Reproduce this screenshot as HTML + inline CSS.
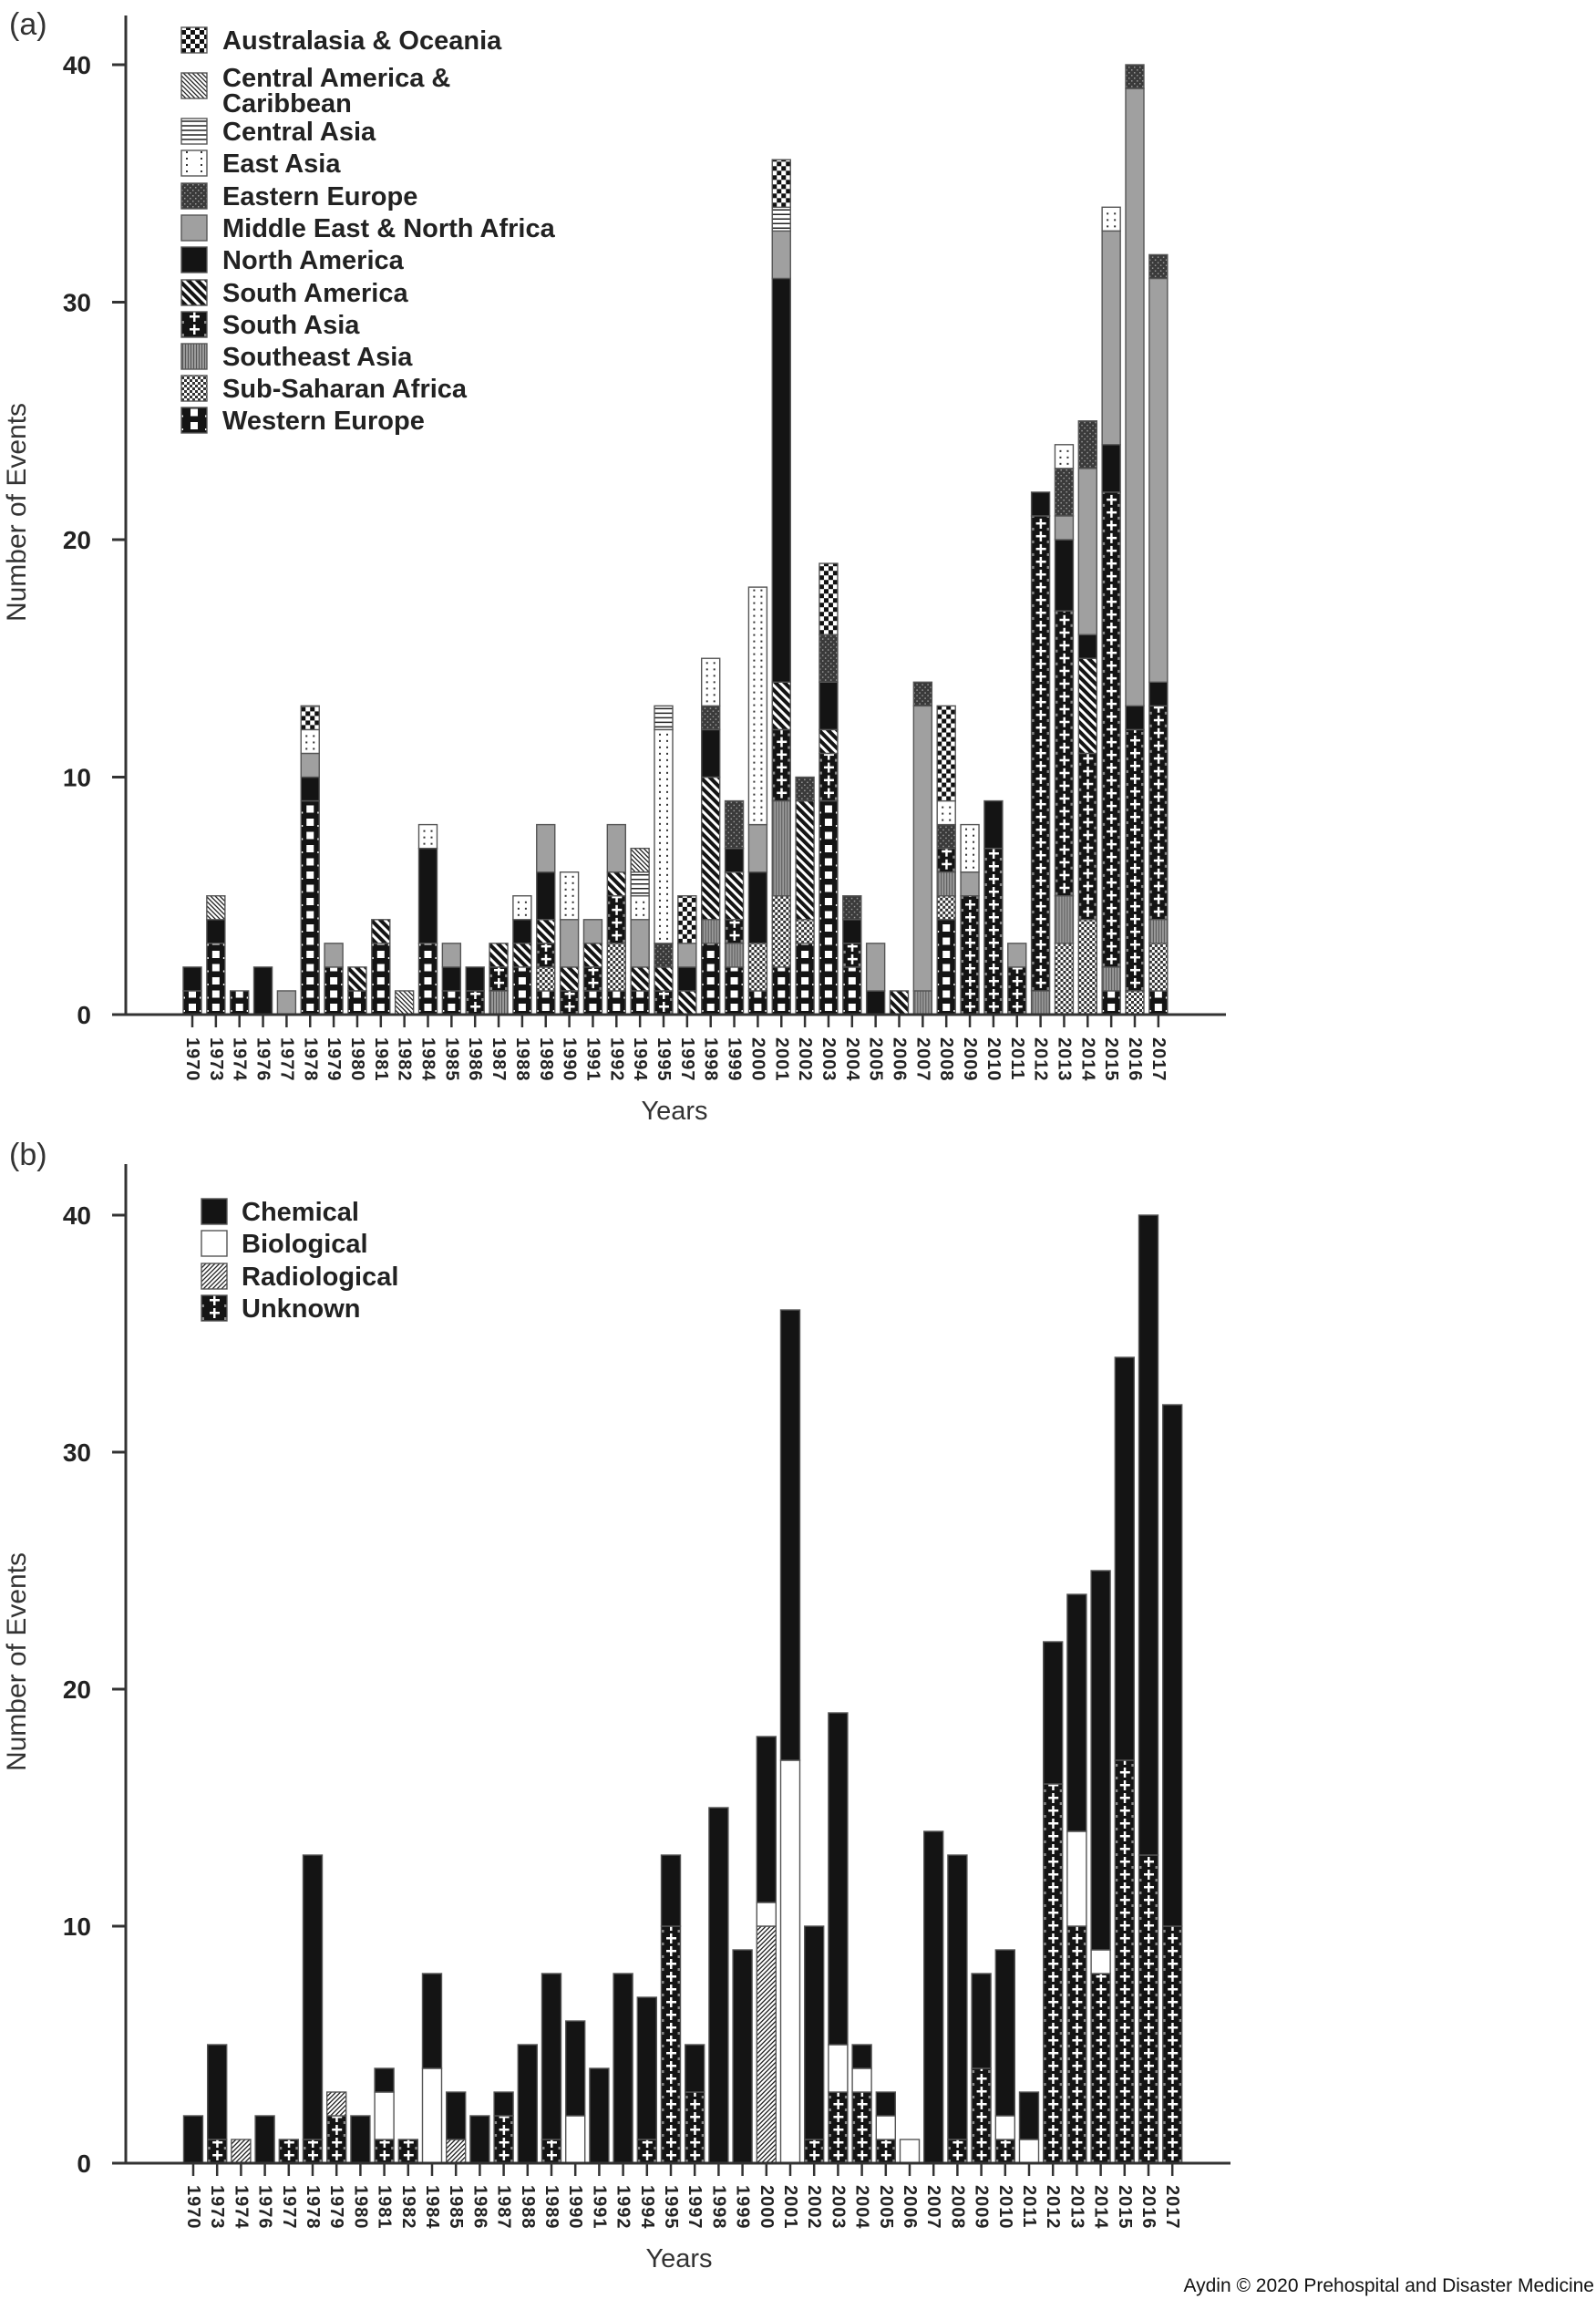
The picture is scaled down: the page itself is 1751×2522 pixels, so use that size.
<!DOCTYPE html>
<html><head><meta charset="utf-8"><style>
html,body{margin:0;padding:0;background:#fff;}
svg{display:block;font-family:"Liberation Sans",Arial,sans-serif;}
</style></head><body>
<svg id="s" xmlns="http://www.w3.org/2000/svg" width="1751" height="2522" viewBox="0 0 1751 2522">
<rect width="1751" height="2522" fill="#fff"/>
<text x="10" y="38" font-size="34" fill="#333">(a)</text>
<text x="10" y="1278" font-size="34" fill="#333">(b)</text>
<text transform="translate(28,562) rotate(-90)" font-size="30" fill="#333" text-anchor="middle">Number of Events</text>
<text transform="translate(28,1823) rotate(-90)" font-size="30" fill="#333" text-anchor="middle">Number of Events</text>
<text x="740" y="1228" font-size="29" fill="#333" text-anchor="middle">Years</text>
<text x="745" y="2487" font-size="29" fill="#333" text-anchor="middle">Years</text>
<text x="1749" y="2514" font-size="21" fill="#111" text-anchor="end">Aydin © 2020 Prehospital and Disaster Medicine</text>
<g id="g"></g>
</svg>
<script>
var NS="http://www.w3.org/2000/svg",G=document.getElementById('g');
function el(t,a,p){var e=document.createElementNS(NS,t);for(var k in a)e.setAttribute(k,a[k]);(p||G).appendChild(e);return e;}
var defs=el('defs',{});var pid=0;
function clip(x,y,w,h){var id='c'+(pid++);var c=el('clipPath',{id:id},defs);el('rect',{x:x,y:y,width:w,height:h},c);return el('g',{'clip-path':'url(#'+id+')'});}
function seg(code,x,y,w,h){
 var g=clip(x,y,w,h),i,j;
 function R(a,b,c,d,f){el('rect',{x:a,y:b,width:c,height:d,fill:f},g);}
 function L(a,b,c,d,col,sw){el('line',{x1:a,y1:b,x2:c,y2:d,stroke:col,'stroke-width':sw},g);}
 switch(code){
 case 'NA':case 'C':R(x,y,w,h,'#141414');break;
 case 'ME':R(x,y,w,h,'#a0a0a0');break;
 case 'B':R(x,y,w,h,'#fff');break;
 case 'AU':R(x,y,w,h,'#fff');for(j=0;j*5<h;j++)for(i=0;i*5<w;i++)if((i+j)%2==0)R(x+i*5,y+h-(j+1)*5,5,5,'#111');break;
 case 'SSA':R(x,y,w,h,'#fff');for(j=0;j*3<h;j++)for(i=0;i*3<w;i++)if((i+j)%2==0)R(x+i*3,y+h-(j+1)*3,3,3,'#333');break;
 case 'CA':case 'R':R(x,y,w,h,'#fff');for(i=-h;i<w+h;i+=5){if(code=='CA')L(x+i,y,x+i+h,y+h,'#222',1.3);else L(x+i,y+h,x+i+h,y,'#222',1.3);}break;
 case 'CAs':R(x,y,w,h,'#fff');for(j=y+3;j<y+h;j+=5)L(x,j,x+w,j,'#222',1.5);break;
 case 'EA':R(x,y,w,h,'#fff');for(j=y+h-6;j>y;j-=7){R(x+5,j,2,2,'#333');R(x+w-7,j,2,2,'#333');}break;
 case 'EE':R(x,y,w,h,'#3a3a3a');for(j=0;j*3<h;j++)for(i=0;i*3<w;i++)if((i+j)%2==0)R(x+i*3,y+h-(j+1)*3,1.5,1.5,'#999');break;
 case 'SEA':R(x,y,w,h,'#9a9a9a');for(i=x+1.5;i<x+w;i+=3)L(i,y,i,y+h,'#555',1);break;
 case 'SA':R(x,y,w,h,'#141414');for(i=-h;i<w+h;i+=10)L(x+i,y,x+i+h,y+h,'#fff',3);break;
 case 'WE':R(x,y,w,h,'#141414');for(j=y+h-12;j>y-8;j-=14.5)R(x+w/2-4,j,8,8,'#fff');for(j=y+h-5;j>y;j-=14.5){R(x,j,2,2,'#fff');R(x+w-2,j,2,2,'#fff');}break;
 case 'SAs':case 'U':R(x,y,w,h,'#141414');for(j=y+h-9;j>y-8;j-=14){R(x+w/2-1,j-5,2.5,11,'#fff');R(x+w/2-5,j-1,11,2.5,'#fff');}
   for(j=y+h-2;j>y;j-=14){R(x,j-2,3,3,'#888');R(x+w-3,j-2,3,3,'#888');}break;
 }
 el('rect',{x:x,y:y,width:w,height:h,fill:'none',stroke:'#555','stroke-width':1.4});
}
var years=[1970,1973,1974,1976,1977,1978,1979,1980,1981,1982,1984,1985,1986,1987,1988,1989,1990,1991,1992,1994,1995,1997,1998,1999,2000,2001,2002,2003,2004,2005,2006,2007,2008,2009,2010,2011,2012,2013,2014,2015,2016,2017];
var A=[
[['WE',1],['NA',1]],[['WE',3],['NA',1],['CA',1]],[['WE',1]],[['NA',2]],[['ME',1]],
[['WE',9],['NA',1],['ME',1],['EA',1],['AU',1]],[['WE',2],['ME',1]],[['WE',1],['SA',1]],[['WE',3],['SA',1]],[['CA',1]],
[['WE',3],['NA',4],['EA',1]],[['WE',1],['NA',1],['ME',1]],[['SAs',1],['NA',1]],[['SEA',1],['SAs',1],['SA',1]],
[['WE',2],['SA',1],['NA',1],['EA',1]],[['WE',1],['SSA',1],['SAs',1],['SA',1],['NA',2],['ME',2]],
[['SAs',1],['SA',1],['ME',2],['EA',2]],[['WE',1],['SAs',1],['SA',1],['ME',1]],
[['WE',1],['SSA',2],['SAs',2],['SA',1],['ME',2]],[['WE',1],['SA',1],['ME',2],['EA',1],['CAs',1],['CA',1]],
[['SAs',1],['SA',1],['EE',1],['EA',9],['CAs',1]],[['SA',1],['NA',1],['ME',1],['AU',2]],
[['WE',3],['SEA',1],['SA',6],['NA',2],['EE',1],['EA',2]],[['WE',2],['SEA',1],['SAs',1],['SA',2],['NA',1],['EE',2]],
[['WE',1],['SSA',2],['NA',3],['ME',2],['EA',10]],
[['WE',2],['SSA',3],['SEA',4],['SAs',3],['SA',2],['NA',17],['ME',2],['CAs',1],['AU',2]],
[['WE',3],['SSA',1],['SA',5],['EE',1]],[['WE',9],['SAs',2],['SA',1],['NA',2],['EE',2],['AU',3]],
[['WE',2],['SAs',1],['NA',1],['EE',1]],[['NA',1],['ME',2]],[['SA',1]],[['SEA',1],['ME',12],['EE',1]],
[['WE',4],['SSA',1],['SEA',1],['SAs',1],['EE',1],['EA',1],['AU',4]],[['SAs',5],['ME',1],['EA',2]],
[['SAs',7],['NA',2]],[['SAs',2],['ME',1]],[['SEA',1],['SAs',20],['NA',1]],
[['SSA',3],['SEA',2],['SAs',12],['NA',3],['ME',1],['EE',2],['EA',1]],
[['SSA',4],['SAs',7],['SA',4],['NA',1],['ME',7],['EE',2]],
[['WE',1],['SEA',1],['SAs',20],['NA',2],['ME',9],['EA',1]],
[['SSA',1],['SAs',11],['NA',1],['ME',26],['EE',1]],
[['WE',1],['SSA',2],['SEA',1],['SAs',9],['NA',1],['ME',17],['EE',1]]];
var B=[[['C',2]],[['U',1],['C',4]],[['R',1]],[['C',2]],[['U',1]],[['U',1],['C',12]],[['U',2],['R',1]],[['C',2]],
[['U',1],['B',2],['C',1]],[['U',1]],[['B',4],['C',4]],[['R',1],['C',2]],[['C',2]],[['U',2],['C',1]],[['C',5]],
[['U',1],['C',7]],[['B',2],['C',4]],[['C',4]],[['C',8]],[['U',1],['C',6]],[['U',10],['C',3]],[['U',3],['C',2]],
[['C',15]],[['C',9]],[['R',10],['B',1],['C',7]],[['B',17],['C',19]],[['U',1],['C',9]],[['U',3],['B',2],['C',14]],
[['U',3],['B',1],['C',1]],[['U',1],['B',1],['C',1]],[['B',1]],[['C',14]],[['U',1],['C',12]],[['U',4],['C',4]],
[['U',1],['B',1],['C',7]],[['B',1],['C',2]],[['U',16],['C',6]],[['U',10],['B',4],['C',10]],[['U',8],['B',1],['C',16]],
[['U',17],['C',17]],[['U',13],['C',27]],[['U',10],['C',22]]];
function panel(data,x0,dx,bw,y0,unit,ytop,xend,laby){
 data.forEach(function(st,i){var cx=x0+i*dx,y=y0;st.forEach(function(s){var h=s[1]*unit;y-=h;seg(s[0],cx-bw/2,y,bw,h);});
  el('line',{x1:cx,y1:y0,x2:cx,y2:y0+14,stroke:'#333','stroke-width':2.5});
  el('text',{transform:'translate('+(cx)+','+laby+') rotate(90)','font-size':20,'font-weight':'bold',fill:'#222','dominant-baseline':'central','letter-spacing':'1'}).textContent=years[i];
 });
 el('line',{x1:138,y1:ytop,x2:138,y2:y0,stroke:'#333','stroke-width':3});
 el('line',{x1:123,y1:y0,x2:xend,y2:y0,stroke:'#333','stroke-width':3});
 for(var v=0;v<=40;v+=10){var yy=y0-v*unit;el('line',{x1:123,y1:yy,x2:138,y2:yy,stroke:'#333','stroke-width':3});
  el('text',{x:100,y:yy+10,'font-size':28,'font-weight':'bold','text-anchor':'end',fill:'#222'}).textContent=v;}
}
panel(A,211,25.85,20,1113,26.05,17,1345,1138);
panel(B,212,26.2,21,2373,26,1277,1350,2397);
function legend(items,x,ys,tx){items.forEach(function(it,i){seg(it[0],x,ys[i],28,28);
 if(it[1].indexOf('|')>=0){var p=it[1].split('|');
  el('text',{x:tx,y:ys[i]+15,'font-size':29,'font-weight':'bold',fill:'#222'}).textContent=p[0];
  el('text',{x:tx,y:ys[i]+43,'font-size':29,'font-weight':'bold',fill:'#222'}).textContent=p[1];}
 else el('text',{x:tx,y:ys[i]+24,'font-size':29,'font-weight':'bold',fill:'#222'}).textContent=it[1];});}
legend([['AU','Australasia & Oceania'],['CA','Central America &|Caribbean'],['CAs','Central Asia'],['EA','East Asia'],['EE','Eastern Europe'],['ME','Middle East & North Africa'],['NA','North America'],['SA','South America'],['SAs','South Asia'],['SEA','Southeast Asia'],['SSA','Sub-Saharan Africa'],['WE','Western Europe']],
 199,[30,80,130,165,201,236,271,307,342,377,412,447],244);
legend([['C','Chemical'],['B','Biological'],['R','Radiological'],['U','Unknown']],221,[1315,1350,1386,1421],265);
</script>
</body></html>
